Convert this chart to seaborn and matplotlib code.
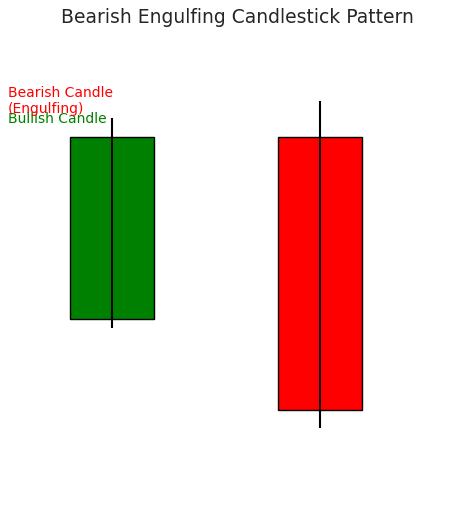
import matplotlib
matplotlib.use("Agg")
import matplotlib.pyplot as plt
import seaborn as sns

# candle data (index 0 = bullish day, 1 = bearish engulfing day)
positions = [0, 1]
opens = [100.0, 104.0]
closes = [104.0, 98.0]
highs = [104.42, 104.8]
lows = [99.8, 97.6]
colors = ["green", "red"]

labels = ["Bullish Candle", "Bearish Candle\n(Engulfing)"]
label_y = [104.31, 104.53]
label_x = -0.5

sns.set_theme(style="white")

fig = plt.figure(figsize=(4.74, 5.09), dpi=100)
ax = fig.add_axes([0, 0, 1, 1 - 31 / 509])

# bodies
bottoms = [min(o, c) for o, c in zip(opens, closes)]
heights = [abs(c - o) for o, c in zip(opens, closes)]
ax.bar(positions, heights, bottom=bottoms, width=0.4, color=colors,
       edgecolor="black", linewidth=1, zorder=2)

# wicks
ax.vlines(positions, lows, highs, color="black", linewidth=1.5, zorder=3)

# labels
for text, y, c in zip(labels, label_y, colors):
    ax.text(label_x, y, text, color=c, fontsize=10, ha="left", va="baseline")

ax.set_xlim(-0.538, 1.740)
ax.set_ylim(95.82, 106.33)
ax.set_title("Bearish Engulfing Candlestick Pattern", fontsize=13.5)
ax.axis("off")

fig.savefig("out.png", dpi=100)
